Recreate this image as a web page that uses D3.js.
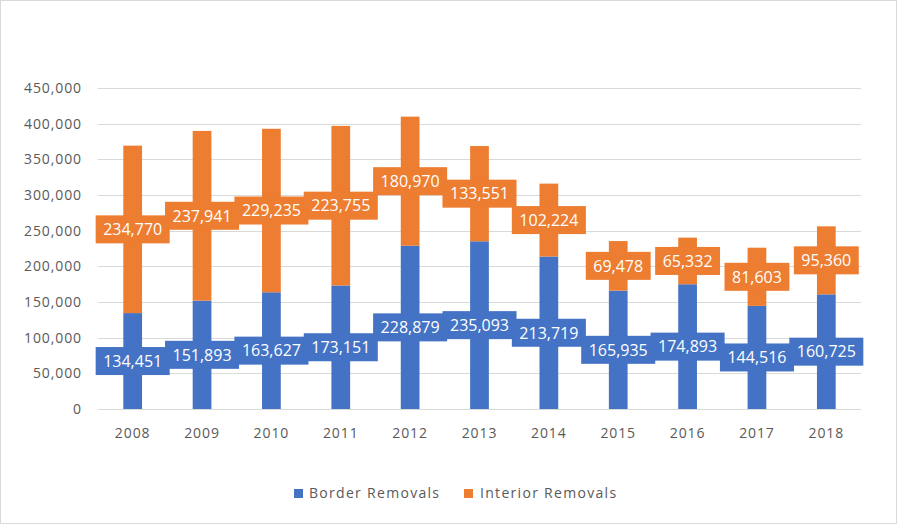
<!DOCTYPE html>
<html lang="en">
<head>
  <meta charset="UTF-8">
  <title>Border and Interior Removals</title>
  <script src="https://d3js.org/d3.v7.min.js"></script>
  <style>
    * { margin: 0; padding: 0; box-sizing: border-box; }
    body { background: #fff; width: 899px; height: 525px; overflow: hidden; font-family: 'Open Sans', sans-serif; }
    .tick-label { font-size: 14px; fill: #595959; letter-spacing: 0.9px; }
    .legend-label { font-size: 14px; fill: #595959; letter-spacing: 1.3px; }
    .data-label { font-size: 16px; fill: #fff; }
  </style>
</head>
<body>
  <svg id="chart" width="899" height="525"></svg>

  <script>
    const years = ['2008', '2009', '2010', '2011', '2012', '2013', '2014', '2015', '2016', '2017', '2018'];
    const borderRemovals = [134451, 151893, 163627, 173151, 228879, 235093, 213719, 165935, 174893, 144516, 160725];
    const interiorRemovals = [234770, 237941, 229235, 223755, 180970, 133551, 102224, 69478, 65332, 81603, 95360];
    const yTicks = [0, 50000, 100000, 150000, 200000, 250000, 300000, 350000, 400000, 450000];

    const seriesNames = ['Border Removals', 'Interior Removals'];
    const seriesColors = ['#4472C4', '#ED7D31'];

    const width = 899;
    const height = 525;
    const margin = { left: 98, right: 38, top: 88, bottom: 116 };

    const svg = d3.select('#chart');

    // chart frame
    svg.append('rect')
      .attr('x', 0.5).attr('y', 0.5)
      .attr('width', width - 3).attr('height', height - 2)
      .attr('fill', '#fff')
      .attr('stroke', '#D9D9D9');

    const x = d3.scaleBand()
      .domain(years)
      .range([margin.left, width - margin.right])
      .paddingInner(0.73)
      .paddingOuter(0.365);

    const y = d3.scaleLinear()
      .domain([0, 450000])
      .range([height - margin.bottom, margin.top]);

    // gridlines
    svg.append('g')
      .selectAll('line')
      .data(yTicks)
      .enter().append('line')
      .attr('x1', margin.left)
      .attr('x2', width - margin.right)
      .attr('y1', d => Math.round(y(d)) + 0.5)
      .attr('y2', d => Math.round(y(d)) + 0.5)
      .attr('stroke', '#D9D9D9')
      .attr('stroke-width', 1);

    // y axis labels
    svg.append('g')
      .selectAll('text')
      .data(yTicks)
      .enter().append('text')
      .attr('class', 'tick-label')
      .attr('x', 82)
      .attr('y', d => y(d))
      .attr('dy', '0.35em')
      .attr('text-anchor', 'end')
      .text(d => d3.format(',')(d));

    // x axis labels
    svg.append('g')
      .selectAll('text')
      .data(years)
      .enter().append('text')
      .attr('class', 'tick-label')
      .attr('x', d => x(d) + x.bandwidth() / 2)
      .attr('y', 438)
      .attr('text-anchor', 'middle')
      .text(d => d);

    const rows = years.map((yr, i) => ({ year: yr, border: borderRemovals[i], interior: interiorRemovals[i] }));
    const stack = d3.stack().keys(['border', 'interior']);
    const stacked = stack(rows);

    const layers = svg.append('g')
      .selectAll('g')
      .data(stacked)
      .enter().append('g')
      .attr('fill', (d, i) => seriesColors[i]);

    layers.selectAll('rect')
      .data(d => d)
      .enter().append('rect')
      .attr('x', d => x(d.data.year))
      .attr('width', x.bandwidth())
      .attr('y', d => y(d[1]))
      .attr('height', d => y(d[0]) - y(d[1]));

    // data labels with filled boxes
    const labelLayers = svg.append('g')
      .selectAll('g')
      .data(stacked)
      .enter().append('g');

    labelLayers.each(function(layer, li) {
      const g = d3.select(this);
      layer.forEach(d => {
        const cx = x(d.data.year) + x.bandwidth() / 2;
        const cy = y((d[0] + d[1]) / 2);
        const lbl = g.append('g');
        const t = lbl.append('text')
          .attr('class', 'data-label')
          .attr('x', cx)
          .attr('y', cy)
          .attr('dy', '0.36em')
          .attr('text-anchor', 'middle')
          .text(d3.format(',')(d[1] - d[0]));
        const bb = t.node().getBBox();
        const w = bb.width + 15;
        lbl.insert('rect', 'text')
          .attr('x', cx - w / 2)
          .attr('y', cy - 14)
          .attr('width', w)
          .attr('height', 28)
          .attr('fill', seriesColors[li]);
      });
    });

    // legend
    const legendItems = [{ x: 294, tx: 309 }, { x: 464, tx: 480 }];
    const legend = svg.append('g')
      .selectAll('g')
      .data(seriesNames)
      .enter().append('g');

    legend.append('rect')
      .attr('x', (d, i) => legendItems[i].x)
      .attr('y', 489)
      .attr('width', 9)
      .attr('height', 9)
      .attr('fill', (d, i) => seriesColors[i]);

    legend.append('text')
      .attr('class', 'legend-label')
      .attr('x', (d, i) => legendItems[i].tx)
      .attr('y', 493.5)
      .attr('dy', '0.35em')
      .text(d => d);
  </script>
</body>
</html>
